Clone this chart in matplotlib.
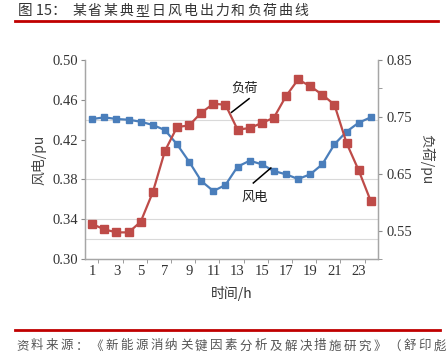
import matplotlib
matplotlib.use('Agg')
import matplotlib.pyplot as plt
from matplotlib.lines import Line2D

plt.rcParams['font.family'] = ['Noto Sans CJK SC', 'DejaVu Sans']

# Data
hours = list(range(1, 25))
wind = [0.4407, 0.4424, 0.4407, 0.4400, 0.4380, 0.4347, 0.4296, 0.4153,
        0.3978, 0.3784, 0.3683, 0.3744, 0.3928, 0.3988, 0.3952, 0.3884,
        0.3851, 0.3804, 0.3851, 0.3952, 0.4153, 0.4280, 0.4370, 0.4424]
load = [0.5614, 0.5520, 0.5468, 0.5468, 0.5655, 0.6175, 0.6900, 0.7321,
        0.7350, 0.7573, 0.7730, 0.7714, 0.7275, 0.7304, 0.7392, 0.7486,
        0.7865, 0.8158, 0.8040, 0.7890, 0.7714, 0.7040, 0.6560, 0.6018]
left_ticks = [0.30, 0.34, 0.38, 0.42, 0.46, 0.50]
right_ticks = [0.55, 0.65, 0.75, 0.85]
grid_vals = [0.32, 0.34, 0.38, 0.44]

title_head = '图 15：'
title_body = '某省某典型日风电出力和负荷曲线'
source = '资料来源：《新能源消纳关键因素分析及解决措施研究》（舒印彪'

blue = '#4a7ebb'
red = '#be4b48'
serif = 'Liberation Serif'
W, H = 446, 354


def spaced_text(fig, x0, y, s, pitch, **kw):
    # draw characters one by one with a fixed pitch (in pixels)
    for i, ch in enumerate(s):
        fig.text((x0 + i * pitch) / W, 1 - y / H, ch, ha='left', va='center', **kw)


fig = plt.figure(figsize=(4.46, 3.54), dpi=100)
ax = fig.add_axes([0.1906, 0.2684, 0.657, 0.562])
ax2 = ax.twinx()

# wind on left axis
for g in grid_vals:
    ax.axhline(g, color='#d9d9d9', lw=0.8, zorder=0)
ax.plot(hours, wind, color=blue, lw=1.6, marker='s', ms=4.5, zorder=3)
ax.set_ylim(0.30, 0.50)
ax.set_yticks(left_ticks)
ax.set_yticklabels([f'{t:.2f}' for t in left_ticks], fontfamily=serif, fontsize=10.5)
ax.set_xlim(0.4, 24.6)
ax.set_xticks(range(1, 25, 2))
ax.set_xticklabels([str(h) for h in range(1, 25, 2)], fontfamily=serif, fontsize=10.5)
ax.set_xticks([h + 0.5 for h in range(1, 24, 2)], minor=True)
ax.tick_params(axis='x', which='major', length=0, pad=4)
ax.tick_params(axis='x', which='minor', length=3, color='#8c8c8c')
ax.tick_params(axis='y', length=3, color='#8c8c8c', pad=2, labelcolor='#333333')
ax.tick_params(axis='x', labelcolor='#333333')

# load on right axis
ax2.plot(hours, load, color=red, lw=1.6, marker='s', ms=6, zorder=3)
ax2.set_ylim(0.50, 0.85)
ax2.set_yticks(right_ticks)
ax2.set_yticklabels([f'{t:.2f}' for t in right_ticks], fontfamily=serif, fontsize=10.5)
ax2.set_yticks([0.50, 0.80], minor=True)
ax2.tick_params(axis='y', which='both', length=3, color='#8c8c8c', pad=3, labelcolor='#333333')

for a in (ax, ax2):
    a.spines['top'].set_visible(False)
    for s in ('left', 'right', 'bottom'):
        a.spines[s].set_color('#a6a6a6')
        a.spines[s].set_linewidth(0.9)

ax.set_ylabel('风电/pu', fontsize=10, color='#444444', labelpad=4)
ax2.set_ylabel('负荷/pu', fontsize=10, color='#444444', rotation=270, labelpad=16)
ax.set_xlabel('时间/h', fontsize=10, color='#333333', labelpad=6)

# callout labels
ax2.plot([12.5, 13.95], [0.758, 0.782], color='black', lw=1.1, zorder=4)
ax2.text(13.6, 0.800, '负荷', fontsize=9.5, ha='center', va='center', color='#222222')
ax.plot([14.3, 15.75], [0.3764, 0.3915], color='black', lw=1.1, zorder=4)
ax.text(14.4, 0.3615, '风电', fontsize=9.5, ha='center', va='center', color='#222222')

# title, rules and source
fig.text(18 / W, 1 - 11 / H, title_head, fontsize=10.5, ha='left', va='center', color='#333333')
spaced_text(fig, 72, 11, title_body, 15.9, fontsize=10, color='#333333')
fig.add_artist(Line2D([15 / W, 438 / W], [1 - 21 / H] * 2, color='#c00000', lw=2))
fig.add_artist(Line2D([15 / W, 440 / W], [1 - 330 / H] * 2, color='#c00000', lw=2))
spaced_text(fig, 16, 346, source, 14.9, fontsize=9, color='#555555')

fig.savefig('out.png', dpi=100)
